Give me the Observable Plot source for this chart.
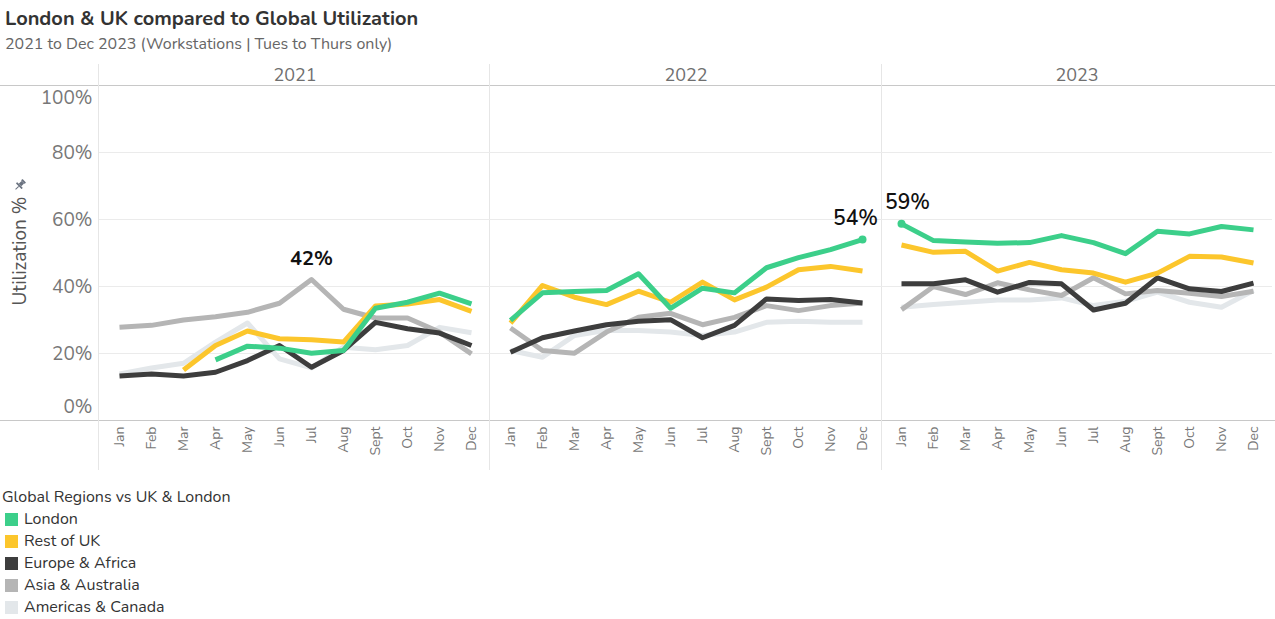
<!DOCTYPE html>
<html>
<head>
<meta charset="utf-8">
<script src="https://cdn.jsdelivr.net/npm/d3@7"></script>
<script src="https://cdn.jsdelivr.net/npm/@observablehq/plot@0.6"></script>
<style>
  html, body { margin: 0; padding: 0; background: #fff; }
  body { width: 1275px; height: 619px; position: relative; font-family: "Nunito", "Lato", "Open Sans", sans-serif; overflow: hidden; }
  #title { position: absolute; left: 5px; top: 6px; font-size: 20px; font-weight: bold; color: #333; line-height: 26px; white-space: nowrap; }
  #subtitle { position: absolute; left: 5px; top: 33px; font-size: 16px; color: #666; line-height: 22px; white-space: nowrap; }
  #chart { position: absolute; left: 0; top: 56px; }
  #ytitle { position: absolute; left: 20px; top: 251px; transform: translate(-50%, -50%) rotate(-90deg); font-size: 19px; color: #555; white-space: nowrap; line-height: 20px; }
  #pin { position: absolute; left: 13px; top: 178px; }
  #legend { position: absolute; left: 2px; top: 486px; font-size: 16px; color: #333; }
  #legend .lt { line-height: 22px; margin-bottom: 0px; }
  #legend .item { height: 22px; display: flex; align-items: center; }
  #legend .sw { width: 13px; height: 13px; margin-left: 3px; margin-right: 6px; }
</style>
</head>
<body>
<div id="title">London &amp; UK compared to Global Utilization</div>
<div id="subtitle">2021 to Dec 2023 (Workstations | Tues to Thurs only)</div>
<div id="chart"></div>
<svg id="pin" width="14" height="14" viewBox="0 0 14 14"><g transform="rotate(45 7 7)" fill="#6b7380"><rect x="4.5" y="1" width="5" height="2" rx="0.5"/><rect x="5.2" y="3" width="3.6" height="4"/><rect x="3" y="7" width="8" height="1.8" rx="0.5"/><rect x="6.5" y="8.8" width="1" height="4.5"/></g></svg>
<div id="ytitle">Utilization %</div>
<div id="legend"></div>
<script>
const years = ["2021", "2022", "2023"];
const months = ["Jan","Feb","Mar","Apr","May","Jun","Jul","Aug","Sept","Oct","Nov","Dec"];
const seriesNames = ["London", "Rest of UK", "Europe & Africa", "Asia & Australia", "Americas & Canada"];
const seriesColors = ["#3ccf8a", "#fcc62c", "#3d3d3d", "#b5b5b5", "#e3e7ea"];

// values per series: 2021 Jan..Dec, 2022 Jan..Dec, 2023 Jan..Dec
const london = [
  null, null, null, 18.1, 22.2, 21.6, 20.1, 20.9, 33.5, 35.3, 38.0, 34.8,
  29.9, 38.1, 38.5, 38.8, 43.8, 33.5, 39.5, 38.1, 45.6, 48.6, 51.0, 54.0,
  58.7, 53.7, 53.3, 52.9, 53.1, 55.2, 53.1, 49.8, 56.5, 55.7, 57.9, 56.9
];
const restOfUK = [
  null, null, 15.1, 22.4, 26.7, 24.4, 24.1, 23.4, 34.2, 34.8, 36.1, 32.6,
  29.1, 40.3, 36.8, 34.6, 38.6, 35.3, 41.3, 36.0, 39.8, 45.0, 46.0, 44.6,
  52.4, 50.2, 50.5, 44.6, 47.2, 45.0, 44.0, 41.3, 44.0, 49.0, 48.8, 47.0
];
const europeAfrica = [
  13.3, 13.9, 13.3, 14.4, 17.9, 22.4, 15.9, 20.9, 29.3, 27.4, 26.1, 22.4,
  20.4, 24.7, 26.7, 28.6, 29.6, 30.1, 24.7, 28.4, 36.3, 35.8, 36.1, 35.1,
  40.8, 40.8, 42.0, 38.3, 41.2, 40.8, 33.0, 35.0, 42.6, 39.3, 38.5, 41.0
];
const asiaAustralia = [
  27.8, 28.4, 30.0, 31.0, 32.3, 35.0, 42.1, 33.2, 30.6, 30.6, 26.4, 19.9,
  27.6, 20.9, 20.1, 26.4, 30.8, 32.0, 28.6, 30.8, 34.3, 32.8, 34.3, 35.1,
  33.1, 40.0, 37.6, 41.1, 39.0, 37.3, 42.6, 37.8, 38.8, 38.0, 37.0, 38.6
];
const americasCanada = [
  13.9, 15.7, 17.1, 23.4, 29.1, 18.4, 15.7, 21.9, 21.1, 22.4, 27.8, 26.2,
  20.9, 18.9, 25.4, 26.9, 26.9, 26.4, 25.4, 26.4, 29.3, 29.6, 29.3, 29.3,
  33.8, 34.6, 35.3, 36.0, 36.0, 36.6, 34.3, 35.6, 38.3, 35.3, 33.8, 38.8
];

const seriesValues = [london, restOfUK, europeAfrica, asiaAustralia, americasCanada];
const rows = [];
seriesNames.forEach((name, si) => {
  seriesValues[si].forEach((v, i) => {
    rows.push({series: name, year: years[Math.floor(i / 12)], month: months[i % 12], value: v});
  });
});
// draw order: lightest first, London on top
const drawOrder = ["Americas & Canada", "Asia & Australia", "Europe & Africa", "Rest of UK", "London"];
const ordered = drawOrder.flatMap(s => rows.filter(r => r.series === s));

const pick = (series, year, month) => rows.filter(r => r.series === series && r.year === year && r.month === month);
const peakAsia = pick("Asia & Australia", "2021", "Jul");
const london2022Dec = pick("London", "2022", "Dec");
const london2023Jan = pick("London", "2023", "Jan");
const pct = d => Math.round(d.value) + "%";

const font = '"Nunito", "Lato", "Open Sans", sans-serif';
const W = 1275, H = 424, mL = 98, mR = 3, mT = 29, mB = 60;

const chart = Plot.plot({
  width: W, height: H,
  marginLeft: mL, marginRight: mR, marginTop: mT, marginBottom: mB,
  style: {fontFamily: font, color: "#777", background: "transparent"},
  fx: {domain: years, padding: 0, label: null},
  x: {type: "point", domain: months, padding: 0.5, label: null},
  y: {domain: [0, 100], label: null},
  color: {domain: seriesNames, range: seriesColors},
  marks: [
    Plot.gridY([20, 40, 60, 80], {stroke: "#ebebeb", strokeOpacity: 1}),
    Plot.axisFx({anchor: "top", tickSize: 0, tickPadding: 5, fontSize: 18, fill: "#6f6f6f", label: null}),
    Plot.axisX({tickRotate: -90, tickSize: 0, tickPadding: 6, fontSize: 14, fill: "#777", label: null}),
    Plot.axisY([20, 40, 60, 80], {tickSize: 0, tickPadding: 7, fontSize: 19, fill: "#777", tickFormat: d => d + "%", label: null}),
    Plot.axisY([0], {tickSize: 0, tickPadding: 7, fontSize: 19, fill: "#777", tickFormat: d => d + "%", dy: -14, label: null}),
    Plot.axisY([100], {tickSize: 0, tickPadding: 7, fontSize: 19, fill: "#777", tickFormat: d => d + "%", dy: 12, label: null}),
    Plot.lineY(ordered, {fx: "year", x: "month", y: "value", z: "series", stroke: "series", strokeWidth: 5, strokeLinejoin: "round", strokeLinecap: "butt"}),
    Plot.dot([...london2022Dec, ...london2023Jan], {fx: "year", x: "month", y: "value", r: 4, fill: "series"}),
    Plot.text(peakAsia, {fx: "year", x: "month", y: "value", text: pct, dy: -21, fontSize: 20, fontWeight: "bold", fill: "#111"}),
    Plot.text(london2022Dec, {fx: "year", x: "month", y: "value", text: pct, dx: -7, dy: -21.5, fontSize: 21, fontWeight: 600, fill: "#111"}),
    Plot.text(london2023Jan, {fx: "year", x: "month", y: "value", text: pct, dx: 6, dy: -21.5, fontSize: 21, fontWeight: 600, fill: "#111"})
  ]
});

// decorative separators (header/footer rules and panel dividers)
const svg = d3.select(chart);
const step = (W - mL - mR) / years.length;
const deco = svg.insert("g", ":first-child");
deco.append("line").attr("x1", 0).attr("x2", W).attr("y1", mT + 0.5).attr("y2", mT + 0.5).attr("stroke", "#c8c8c8");
deco.append("line").attr("x1", 0).attr("x2", W).attr("y1", H - mB + 0.5).attr("y2", H - mB + 0.5).attr("stroke", "#c8c8c8");
years.forEach((y, i) => {
  const x = Math.round(mL + i * step) + 0.5;
  deco.append("line").attr("x1", x).attr("x2", x).attr("y1", 8).attr("y2", H - 10).attr("stroke", "#e6e6e6");
});

document.getElementById("chart").appendChild(chart);

const legend = document.getElementById("legend");
const lt = document.createElement("div");
lt.className = "lt";
lt.textContent = "Global Regions vs UK & London";
legend.appendChild(lt);
seriesNames.forEach((s, i) => {
  const it = document.createElement("div");
  it.className = "item";
  const sw = document.createElement("span");
  sw.className = "sw";
  sw.style.background = seriesColors[i];
  const tx = document.createElement("span");
  tx.textContent = s;
  it.appendChild(sw); it.appendChild(tx);
  legend.appendChild(it);
});
</script>
</body>
</html>
